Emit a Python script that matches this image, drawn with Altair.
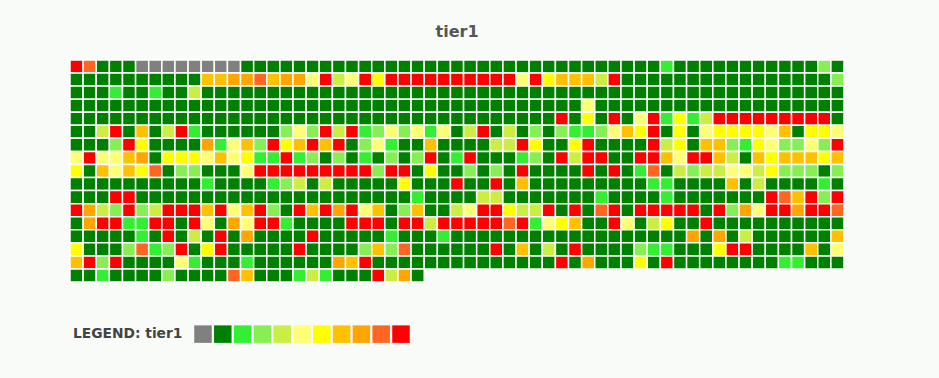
import altair as alt
import pandas as pd

title_text = "tier1"
legend_title = "LEGEND: tier1"

# status codes, in legend order
categories = ["X", "D", "B", "L", "Y", "P", "W", "O", "A", "E", "R"]
colors = ["#808080", "#008000", "#33ee33", "#88ee55", "#ccee44", "#ffff77",
          "#ffff00", "#ffc000", "#ffa500", "#ff6622", "#ff0000"]

rows = [
    "REDDDXXXXX" "XXXDDDDDDD" "DDDDDDDDDD" "DDDDDDDDDD" "DDDDDBDDDD" "DDDDDDDLD",
    "DDDDDDDDDD" "OOAAEOAAPR" "YPRWRRRRRR" "RRRRPRWOOO" "YRDDDDDDDD" "DDDDDDDDL",
    "DDDBDDBDDY" "DDDDDDDDDD" "DDDDDDDDDD" "DDDDDDDDDD" "DDDDDDDDDD" "DDDDDDDDD",
    "DDDDDDDDDD" "DDDDDDDDDD" "DDDDDDDDDD" "DDDDDDDDDP" "DDDDDDDDDD" "DDDDDDDDD",
    "DDDDDDDDDD" "DDDDDDDDDD" "DDDDDDDDDD" "DDDDDDDRDW" "DRDPRBWBYR" "RRRRRRRRD",
    "DDYRDODYRB" "DDDDDDLPLR" "YRBLPLPBPD" "YRDYDLDLBB" "LPOWRDWDPW" "WWWPODWWP",
    "DDDLRWDDDD" "ABPOLRWORO" "RDLPBDDODD" "DDYYRWDDWR" "DDDDRYWDOO" "LBWPLLPLR",
    "PRPPOADWWW" "POPWBBRBLD" "LDBDLDLRDB" "RDDDBLDRYR" "RDDRROPRRO" "YDOWOOOWO",
    "WDOPOWEDLL" "DDDPRRRRRR" "RRRLRRDWDD" "LDLDRDDDDR" "DRDBEDYLYY" "PPYWLLLDL",
    "DDDDDDDDDD" "BDDDDBLYDY" "DDDDDWDDDR" "DDRDODDDDD" "DDDDBBDDDD" "ODYDDDDBD",
    "DDDRRDDDDD" "DDDDDDDDDD" "DDDDDDBDDD" "DYYDDDDDDD" "BDDDDBDDDD" "DDDREORLR",
    "RAYLRLYRRR" "ORPORLDROR" "ARPODLODDY" "PRRWYYRDRD" "ERDRRRRRDR" "LAPRRARRE",
    "DARRBBRRDR" "PDAPRRBDDD" "DRRRDRRYRR" "RRRERBPWOD" "DRPDYWDDRD" "DDDDDDDDD",
    "DDDDDBDRDY" "DRDADDDDRD" "DDDDBDDDBD" "DDDDDDDDDD" "DDDDDDDADA" "DYDDDDDDO",
    "WDDDLEBLRD" "WRDDDDDRDD" "DDLOLEDDDD" "DDRDODYDRD" "DDDLBBDDDW" "RRDDDDODP",
    "ORLRDDDDPB" "DDDBDDDDDD" "AORDDDDDDD" "DDDDDDDRDA" "DDDWDRDDDD" "DDDDBBDDD",
    "DDBDDDDLDD" "DDEODDDBYB" "DDDRYAD",
]

n_cols = 59
n_rows = len(rows)

records = []
for r, s in enumerate(rows, start=1):
    for c, ch in enumerate(s, start=1):
        records.append({"row": r, "col": c, "status": ch})
df = pd.DataFrame(records)

chart = alt.Chart(df).mark_rect(stroke="white", strokeWidth=1.5).encode(
    x=alt.X("col:O", axis=None,
            scale=alt.Scale(domain=list(range(1, n_cols + 1)), paddingInner=0, paddingOuter=0)),
    y=alt.Y("row:O", axis=None,
            scale=alt.Scale(domain=list(range(1, n_rows + 1)), paddingInner=0, paddingOuter=0)),
    color=alt.Color("status:N",
                    scale=alt.Scale(domain=categories, range=colors),
                    legend=alt.Legend(
                        orient="none", legendX=3, legendY=265,
                        direction="horizontal", columns=len(categories),
                        title=legend_title, titleOrient="left",
                        titleFont="DejaVu Sans", titleFontSize=13.8, titleFontWeight="bold",
                        titleColor="#444444", titlePadding=11, titleBaseline="middle",
                        symbolType="square", symbolSize=306, symbolStrokeWidth=0,
                        symbolOpacity=1, labelExpr="''", labelOffset=0, labelFontSize=1,
                        columnPadding=1.8, padding=0)),
).properties(
    width=774, height=222,
    title=alt.TitleParams(title_text, font="DejaVu Sans", fontSize=16, fontWeight="bold",
                          color="#555555", anchor="middle", offset=19),
    background="#f8fbf8",
    padding={"left": 70, "top": 60, "right": 95, "bottom": 96},
    autosize="none",
).configure_view(strokeWidth=0)

chart.save("out.html", embed_options={"renderer": "svg", "actions": False})
